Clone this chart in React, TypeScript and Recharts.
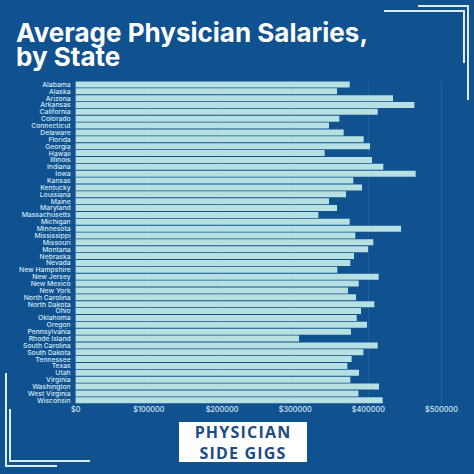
import { Bar, BarChart, CartesianGrid, XAxis, YAxis } from 'recharts';

const states = [
  'Alabama', 'Alaska', 'Arizona', 'Arkansas', 'California', 'Colorado', 'Connecticut', 'Delaware',
  'Florida', 'Georgia', 'Hawaii', 'Illinois', 'Indiana', 'Iowa', 'Kansas', 'Kentucky',
  'Louisiana', 'Maine', 'Maryland', 'Massachusetts', 'Michigan', 'Minnesota', 'Mississippi', 'Missouri',
  'Montana', 'Nebraska', 'Nevada', 'New Hampshire', 'New Jersey', 'New Mexico', 'New York', 'North Carolina',
  'North Dakota', 'Ohio', 'Oklahoma', 'Oregon', 'Pennsylvania', 'Rhode Island', 'South Carolina', 'South Dakota',
  'Tennessee', 'Texas', 'Utah', 'Virginia', 'Washington', 'West Virginia', 'Wisconsin',
];

const salaries = [
  374500, 357200, 433700, 462900, 412800, 360400, 346300, 366300,
  393600, 402300, 340300, 405000, 420500, 464700, 379500, 391400,
  369500, 346300, 357200, 331700, 374500, 444700, 382200, 406800,
  399600, 380400, 375400, 357600, 414100, 386800, 372200, 383200,
  408200, 390000, 384100, 398200, 376300, 305300, 412800, 393200,
  377200, 371300, 387300, 375400, 414600, 386400, 419600,
];

const xTicks = [0, 100000, 200000, 300000, 400000, 500000];

const data = states.map((state, i) => ({ state, salary: salaries[i] }));

const BG = '#10518f';
const BAR = '#b6e0e1';
const LINE = '#d9edfb';
const TEXT = '#d5e9f4';

// corner decoration: [left, top, width, height]
const corners = [
  [384, 10, 81, 2],
  [463, 10, 2, 53],
  [418, 5, 51, 2],
  [467, 5, 2, 95],
  [5, 373, 2, 94],
  [5, 465, 52, 2],
  [9, 409, 2, 53],
  [9, 460, 81, 2],
];

// plain text tick, the default one wraps long names inside the axis width
function StateTick({ x, y, payload }: any) {
  return (
    <text x={x} y={y} dy={2.5} textAnchor="end" fill={TEXT} fontSize={6.8} fontFamily="Inter" fontWeight={500}>
      {payload.value}
    </text>
  );
}

export default function App() {
  return (
    <div style={{ position: 'absolute', left: 0, top: 0, width: 474, height: 474, background: BG, overflow: 'hidden' }}>
      <div
        style={{
          position: 'absolute',
          left: 16,
          top: 21,
          color: '#ffffff',
          fontFamily: 'Inter',
          fontWeight: 700,
          fontSize: 26,
          lineHeight: '24px',
          whiteSpace: 'nowrap',
        }}
      >
        Average Physician Salaries,
        <br />
        by State
      </div>
      {corners.map(([left, top, width, height], i) => (
        <div key={i} style={{ position: 'absolute', left, top, width, height, background: LINE }} />
      ))}
      <div style={{ position: 'absolute', left: 0, top: 0 }}>
        <BarChart
          width={474}
          height={474}
          data={data}
          layout="vertical"
          barCategoryGap={0.5}
          margin={{ top: 80.9, right: 32.5, bottom: 50.3, left: 0 }}
        >
          <CartesianGrid horizontal={false} stroke="#2c6aa6" strokeWidth={0.7} />
          <XAxis
            type="number"
            domain={[0, 500000]}
            ticks={xTicks}
            tickFormatter={(v) => `$${v}`}
            tick={{ fill: TEXT, fontSize: 7.3, fontFamily: 'Inter', fontWeight: 500 }}
            tickLine={false}
            axisLine={false}
            height={20}
            tickSize={0}
            tickMargin={3}
          />
          <YAxis
            type="category"
            dataKey="state"
            width={75.7}
            interval={0}
            tick={<StateTick />}
            tickLine={false}
            axisLine={false}
            tickSize={0}
            tickMargin={5}
          />
          <Bar dataKey="salary" fill={BAR} isAnimationActive={false} />
        </BarChart>
      </div>
      <div
        style={{
          position: 'absolute',
          left: 179,
          top: 422,
          width: 128,
          height: 40,
          background: '#ffffff',
          color: '#1b4c85',
          fontFamily: 'Open Sans',
          fontWeight: 700,
          fontSize: 16,
          lineHeight: '20.5px',
          letterSpacing: 1.2,
          textAlign: 'center',
        }}
      >
        PHYSICIAN
        <br />
        SIDE GIGS
      </div>
    </div>
  );
}
